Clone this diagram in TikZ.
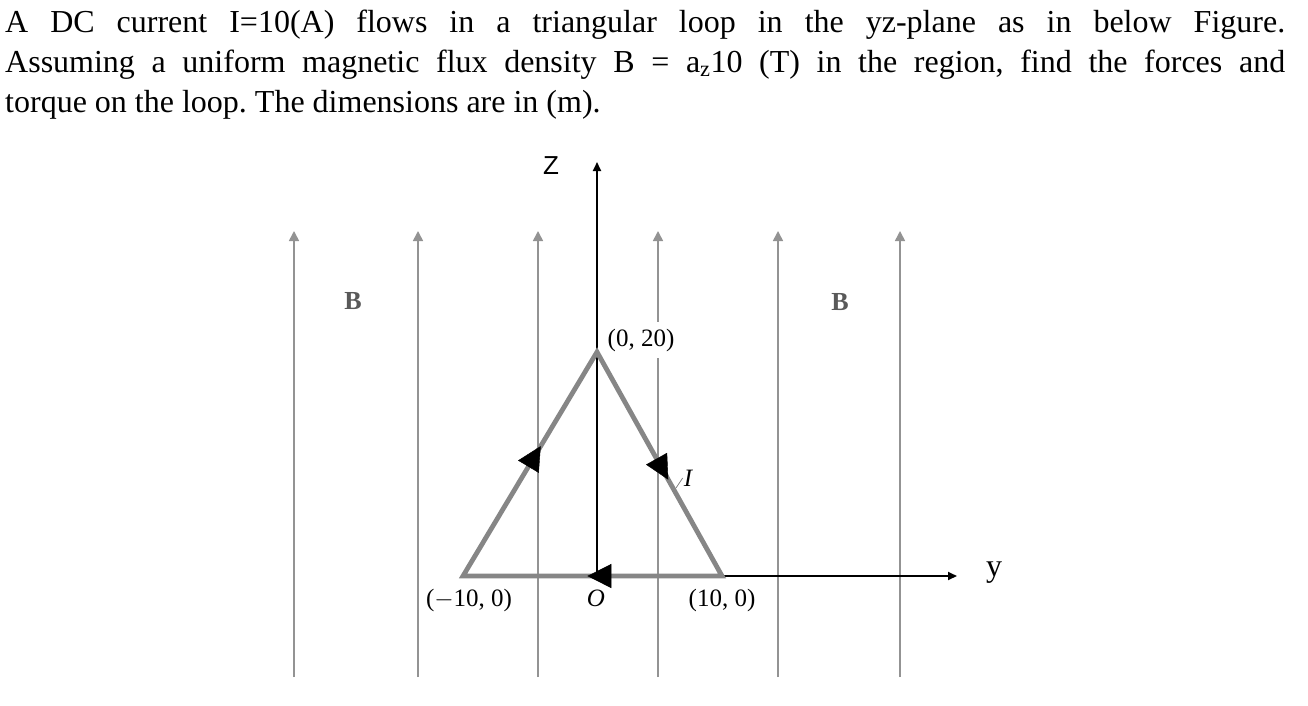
\documentclass[tikz,border=0pt]{standalone}
\usepackage{fontspec}
\setmainfont{Liberation Serif}
\setsansfont{Liberation Sans}
\usetikzlibrary{arrows.meta, decorations.markings}

\begin{document}
\begin{tikzpicture}[x=1pt, y=-1pt,
  field/.style={draw=gray!85, line width=1.6pt, -{Triangle[length=10pt, width=10pt]}},
  axis/.style={draw=black, line width=1.8pt, -{Triangle[length=9pt, width=8pt]}},
  wire/.style={draw=gray!95, line width=4.8pt},
  flow/.style={postaction={decorate}, decoration={markings,
      mark=at position #1 with {\arrow[black]{Triangle[length=24pt, width=24pt]}}}},
  coordlabel/.style={font=\fontsize{25}{25}\selectfont, inner sep=1pt},
  blabel/.style={font=\fontsize{26}{26}\selectfont\bfseries, text=gray!70!black}
]
\useasboundingbox (0,0) rectangle (1308,706);

% Problem statement
\node[anchor=north west, text width=1280pt, align=justify, inner sep=0pt,
      font=\fontsize{32}{40}\selectfont\frenchspacing] (question) at (5,10)
  {A DC current I=10(A) flows in a triangular loop in the yz-plane as in below Figure.\linebreak
   Assuming a uniform magnetic flux density B = a\textsubscript{z}10 (T) in the region, find the forces and\linebreak
   torque on the loop. The dimensions are in (m).};

% Uniform field B (pointing along z)
\def\fieldTop{231}
\def\fieldBottom{677}
\foreach \x in {294,418,538,658,778,900}
  \draw[field] (\x,\fieldBottom) -- (\x,\fieldTop);

% Axes
\coordinate (O) at (597,576);
\coordinate (ztip) at (597,162);
\coordinate (yfoot) at (724,576);
\coordinate (ytip) at (957,576);
\draw[axis] (O) -- (ztip);
\draw[axis] (yfoot) -- (ytip);

% Triangular loop
\coordinate (A) at (597,352);
\coordinate (L) at (463,576);
\coordinate (R) at (722,576);
\draw[wire] (L) -- (A) -- (R) -- cycle;
\path[flow=0.58] (L) -- (A);
\path[flow=0.57] (A) -- (R);
\path[flow=0.52] (R) -- (L);

% Labels
\node[font=\fontsize{26}{26}\sffamily] (zlabel) at (551,166) {Z};
\node[font=\fontsize{32}{32}\selectfont] (ylabel) at (994,573) {y};
\node[blabel] (bleft) at (353,301) {B};
\node[blabel] (bright) at (840,302) {B};
\node[coordlabel, fill=white, inner ysep=7pt] (apex) at (641,340) {(0, 20)};
\node[coordlabel] (left) at (469,600) {($-$10, 0)};
\node[coordlabel] (right) at (722,600) {(10, 0)};
\node[coordlabel] (origin) at (596,598) {\itshape O};
\node[coordlabel] (current) at (688,478) {\itshape I};
\coordinate (tick) at (676,488);
\draw[line width=0.8pt, gray] (tick) -- (current.west);
\end{tikzpicture}
\end{document}
